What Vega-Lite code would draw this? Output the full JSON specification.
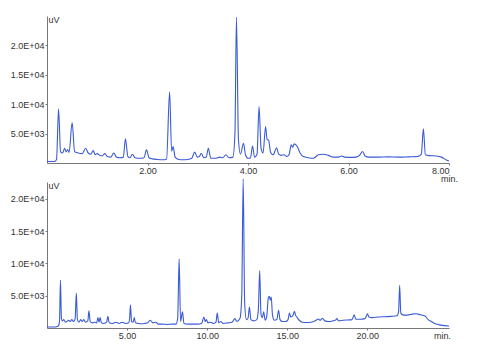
{
  "$schema": "https://vega.github.io/schema/vega-lite/v6.json",
  "background": "white",
  "padding": {"left": 10, "top": 14, "right": 5, "bottom": 5},
  "spacing": 19,
  "bounds": "flush",
  "config": {
    "view": {"stroke": null},
    "font": "Liberation Sans",
    "axis": {"labelFont": "Liberation Sans", "labelFontSize": 9, "labelColor": "#333333", "domainColor": "#777777", "tickColor": "#777777", "grid": false, "titleFont": "Liberation Sans", "titleFontSize": 9, "titleFontWeight": "normal", "titleColor": "#333333"}
  },
  "datasets": {
    "top": [
      {"t": 0.00, "v": 250}, {"t": 0.15, "v": 250}, {"t": 0.19, "v": 600}, {"t": 0.23, "v": 9200}, {"t": 0.27, "v": 1900},
      {"t": 0.31, "v": 1700}, {"t": 0.35, "v": 2500}, {"t": 0.38, "v": 1900}, {"t": 0.41, "v": 2300}, {"t": 0.44, "v": 1800},
      {"t": 0.50, "v": 6900}, {"t": 0.55, "v": 1900}, {"t": 0.62, "v": 1700}, {"t": 0.70, "v": 1600}, {"t": 0.77, "v": 2500},
      {"t": 0.82, "v": 1700}, {"t": 0.87, "v": 1500}, {"t": 0.92, "v": 2100}, {"t": 0.96, "v": 1400}, {"t": 1.00, "v": 1600},
      {"t": 1.05, "v": 1300}, {"t": 1.10, "v": 1200}, {"t": 1.15, "v": 1600}, {"t": 1.20, "v": 1100}, {"t": 1.27, "v": 1000},
      {"t": 1.33, "v": 1700}, {"t": 1.38, "v": 1000}, {"t": 1.45, "v": 900}, {"t": 1.52, "v": 1000}, {"t": 1.56, "v": 4100},
      {"t": 1.61, "v": 1100}, {"t": 1.65, "v": 900}, {"t": 1.70, "v": 1500}, {"t": 1.75, "v": 900}, {"t": 1.85, "v": 800},
      {"t": 1.93, "v": 900}, {"t": 1.98, "v": 2250}, {"t": 2.03, "v": 900}, {"t": 2.10, "v": 700}, {"t": 2.20, "v": 600},
      {"t": 2.30, "v": 550}, {"t": 2.38, "v": 700}, {"t": 2.44, "v": 12100}, {"t": 2.48, "v": 2000}, {"t": 2.51, "v": 2800},
      {"t": 2.55, "v": 1000}, {"t": 2.62, "v": 600}, {"t": 2.70, "v": 550}, {"t": 2.80, "v": 600}, {"t": 2.88, "v": 800},
      {"t": 2.94, "v": 1850}, {"t": 2.99, "v": 1000}, {"t": 3.03, "v": 1100}, {"t": 3.07, "v": 1650}, {"t": 3.12, "v": 900},
      {"t": 3.17, "v": 1000}, {"t": 3.21, "v": 2500}, {"t": 3.26, "v": 800}, {"t": 3.35, "v": 800}, {"t": 3.44, "v": 1000},
      {"t": 3.50, "v": 900}, {"t": 3.56, "v": 1400}, {"t": 3.62, "v": 900}, {"t": 3.70, "v": 1000}, {"t": 3.74, "v": 5000},
      {"t": 3.77, "v": 24800}, {"t": 3.81, "v": 4000}, {"t": 3.85, "v": 1500}, {"t": 3.91, "v": 3350}, {"t": 3.95, "v": 1400},
      {"t": 4.00, "v": 800}, {"t": 4.05, "v": 900}, {"t": 4.09, "v": 2900}, {"t": 4.13, "v": 1000}, {"t": 4.18, "v": 1500},
      {"t": 4.22, "v": 9600}, {"t": 4.26, "v": 2500}, {"t": 4.30, "v": 1700}, {"t": 4.35, "v": 6200}, {"t": 4.38, "v": 4000},
      {"t": 4.41, "v": 3900}, {"t": 4.45, "v": 1800}, {"t": 4.50, "v": 1400}, {"t": 4.57, "v": 2600}, {"t": 4.61, "v": 1500},
      {"t": 4.66, "v": 1300}, {"t": 4.72, "v": 1400}, {"t": 4.77, "v": 1100}, {"t": 4.82, "v": 1500}, {"t": 4.86, "v": 3100},
      {"t": 4.89, "v": 2700}, {"t": 4.92, "v": 3250}, {"t": 4.98, "v": 2800}, {"t": 5.04, "v": 1650}, {"t": 5.10, "v": 1100},
      {"t": 5.20, "v": 900}, {"t": 5.30, "v": 800}, {"t": 5.40, "v": 1400}, {"t": 5.50, "v": 1500}, {"t": 5.60, "v": 1300},
      {"t": 5.70, "v": 1000}, {"t": 5.80, "v": 1000}, {"t": 5.86, "v": 1200}, {"t": 5.92, "v": 1000}, {"t": 6.05, "v": 950},
      {"t": 6.15, "v": 1000}, {"t": 6.22, "v": 1300}, {"t": 6.28, "v": 1950}, {"t": 6.33, "v": 1200}, {"t": 6.40, "v": 1000},
      {"t": 6.60, "v": 1000}, {"t": 6.80, "v": 1050}, {"t": 7.00, "v": 1000}, {"t": 7.20, "v": 1050}, {"t": 7.38, "v": 1100},
      {"t": 7.45, "v": 1500}, {"t": 7.49, "v": 5800}, {"t": 7.53, "v": 1400}, {"t": 7.60, "v": 1250}, {"t": 7.75, "v": 1200},
      {"t": 7.85, "v": 1000}, {"t": 7.95, "v": 500}, {"t": 8.00, "v": 350}
    ],
    "bottom": [
      {"t": 0.00, "v": 150}, {"t": 0.50, "v": 150}, {"t": 0.70, "v": 300}, {"t": 0.78, "v": 1000}, {"t": 0.84, "v": 7400},
      {"t": 0.90, "v": 1500}, {"t": 0.97, "v": 1100}, {"t": 1.05, "v": 1300}, {"t": 1.15, "v": 900}, {"t": 1.25, "v": 1000},
      {"t": 1.35, "v": 1200}, {"t": 1.45, "v": 1000}, {"t": 1.55, "v": 1300}, {"t": 1.65, "v": 1000}, {"t": 1.76, "v": 1500},
      {"t": 1.83, "v": 5400}, {"t": 1.90, "v": 1300}, {"t": 2.00, "v": 900}, {"t": 2.10, "v": 1300}, {"t": 2.20, "v": 1000},
      {"t": 2.30, "v": 1300}, {"t": 2.40, "v": 900}, {"t": 2.55, "v": 1100}, {"t": 2.62, "v": 2650}, {"t": 2.70, "v": 1000},
      {"t": 2.85, "v": 800}, {"t": 3.00, "v": 900}, {"t": 3.10, "v": 800}, {"t": 3.18, "v": 1600}, {"t": 3.25, "v": 900},
      {"t": 3.32, "v": 1600}, {"t": 3.40, "v": 800}, {"t": 3.55, "v": 700}, {"t": 3.72, "v": 900}, {"t": 3.80, "v": 1800},
      {"t": 3.88, "v": 800}, {"t": 4.10, "v": 700}, {"t": 4.30, "v": 900}, {"t": 4.50, "v": 700}, {"t": 4.70, "v": 900},
      {"t": 4.90, "v": 700}, {"t": 5.10, "v": 800}, {"t": 5.16, "v": 1500}, {"t": 5.21, "v": 3600}, {"t": 5.28, "v": 1000},
      {"t": 5.38, "v": 900}, {"t": 5.45, "v": 1600}, {"t": 5.52, "v": 800}, {"t": 5.70, "v": 700}, {"t": 5.90, "v": 650},
      {"t": 6.10, "v": 700}, {"t": 6.30, "v": 800}, {"t": 6.43, "v": 1200}, {"t": 6.50, "v": 1100}, {"t": 6.60, "v": 800},
      {"t": 6.80, "v": 900}, {"t": 6.95, "v": 600}, {"t": 7.20, "v": 600}, {"t": 7.50, "v": 550}, {"t": 7.80, "v": 600},
      {"t": 8.05, "v": 600}, {"t": 8.16, "v": 1500}, {"t": 8.25, "v": 10700}, {"t": 8.34, "v": 1000}, {"t": 8.46, "v": 2500},
      {"t": 8.55, "v": 700}, {"t": 8.80, "v": 600}, {"t": 9.10, "v": 600}, {"t": 9.40, "v": 600}, {"t": 9.65, "v": 700},
      {"t": 9.80, "v": 1700}, {"t": 9.88, "v": 1000}, {"t": 9.95, "v": 1300}, {"t": 10.05, "v": 800}, {"t": 10.20, "v": 900},
      {"t": 10.40, "v": 700}, {"t": 10.55, "v": 900}, {"t": 10.63, "v": 2300}, {"t": 10.72, "v": 800}, {"t": 10.85, "v": 1000},
      {"t": 11.00, "v": 700}, {"t": 11.30, "v": 800}, {"t": 11.55, "v": 900}, {"t": 11.73, "v": 1450}, {"t": 11.85, "v": 1000},
      {"t": 12.05, "v": 1500}, {"t": 12.16, "v": 5000}, {"t": 12.25, "v": 23100}, {"t": 12.34, "v": 4000}, {"t": 12.45, "v": 1300},
      {"t": 12.55, "v": 1500}, {"t": 12.64, "v": 3250}, {"t": 12.73, "v": 1300}, {"t": 12.90, "v": 1100}, {"t": 13.10, "v": 1300},
      {"t": 13.20, "v": 3000}, {"t": 13.28, "v": 8900}, {"t": 13.36, "v": 2200}, {"t": 13.45, "v": 1600}, {"t": 13.53, "v": 2500},
      {"t": 13.62, "v": 1200}, {"t": 13.72, "v": 1800}, {"t": 13.82, "v": 4700}, {"t": 13.88, "v": 4900}, {"t": 13.94, "v": 4300},
      {"t": 14.00, "v": 4800}, {"t": 14.08, "v": 2000}, {"t": 14.20, "v": 1200}, {"t": 14.35, "v": 1300}, {"t": 14.46, "v": 2750},
      {"t": 14.55, "v": 1300}, {"t": 14.70, "v": 1000}, {"t": 14.90, "v": 1000}, {"t": 15.05, "v": 1300}, {"t": 15.14, "v": 2300},
      {"t": 15.22, "v": 1700}, {"t": 15.30, "v": 1800}, {"t": 15.38, "v": 2100}, {"t": 15.45, "v": 2600}, {"t": 15.52, "v": 2000},
      {"t": 15.60, "v": 1700}, {"t": 15.75, "v": 1200}, {"t": 15.95, "v": 900}, {"t": 16.20, "v": 850}, {"t": 16.50, "v": 900},
      {"t": 16.80, "v": 1200}, {"t": 16.95, "v": 1400}, {"t": 17.05, "v": 1200}, {"t": 17.20, "v": 1500}, {"t": 17.35, "v": 1100},
      {"t": 17.60, "v": 1000}, {"t": 17.85, "v": 1100}, {"t": 18.00, "v": 1200}, {"t": 18.10, "v": 1450}, {"t": 18.20, "v": 1100},
      {"t": 18.50, "v": 1200}, {"t": 18.80, "v": 1250}, {"t": 19.05, "v": 1300}, {"t": 19.18, "v": 2050}, {"t": 19.28, "v": 1350},
      {"t": 19.55, "v": 1350}, {"t": 19.85, "v": 1450}, {"t": 19.95, "v": 1900}, {"t": 20.01, "v": 2200}, {"t": 20.10, "v": 1700},
      {"t": 20.30, "v": 1600}, {"t": 20.70, "v": 1700}, {"t": 21.10, "v": 1750}, {"t": 21.50, "v": 1800}, {"t": 21.85, "v": 1900},
      {"t": 21.95, "v": 2500}, {"t": 22.02, "v": 6600}, {"t": 22.09, "v": 2300}, {"t": 22.25, "v": 2000}, {"t": 22.50, "v": 2000},
      {"t": 22.80, "v": 2150}, {"t": 23.05, "v": 2200}, {"t": 23.30, "v": 2050}, {"t": 23.60, "v": 1850}, {"t": 23.80, "v": 1300},
      {"t": 24.00, "v": 1000}, {"t": 24.25, "v": 650}, {"t": 24.60, "v": 450}, {"t": 25.10, "v": 300}
    ]
  },
  "vconcat": [
    {
      "width": 402,
      "height": 147,
      "data": {"name": "top"},
      "mark": {"type": "line", "color": "#3a5ad6", "strokeWidth": 1.1, "clip": false, "interpolate": "monotone"},
      "encoding": {
        "x": {"field": "t", "type": "quantitative", "scale": {"domain": [0, 8.0], "nice": false, "zero": false},
          "axis": {"values": [2, 4, 6, 8], "format": ".2f", "tickSize": 2, "labelPadding": 1, "title": "min.", "titleAlign": "center", "titleX": 402, "titleY": 15, "titleBaseline": "middle"}},
        "y": {"field": "v", "type": "quantitative", "scale": {"domain": [0, 25000], "nice": false},
          "axis": {"values": [5000, 10000, 15000, 20000], "labelExpr": "replace(format(datum.value, '.1e'), 'e+', 'E+0')", "tickSize": 2, "labelPadding": 1, "title": "uV", "titleAngle": 0, "titleAlign": "left", "titleBaseline": "middle", "titleX": 1, "titleY": 3}}
      }
    },
    {
      "width": 402,
      "height": 146,
      "data": {"name": "bottom"},
      "mark": {"type": "line", "color": "#3a5ad6", "strokeWidth": 1.1, "clip": false, "interpolate": "monotone"},
      "encoding": {
        "x": {"field": "t", "type": "quantitative", "scale": {"domain": [0, 25.1], "nice": false, "zero": false},
          "axis": {"values": [5, 10, 15, 20], "format": ".2f", "tickSize": 2, "labelPadding": 1, "title": "min.", "titleAlign": "center", "titleX": 395, "titleY": 7, "titleBaseline": "middle"}},
        "y": {"field": "v", "type": "quantitative", "scale": {"domain": [0, 22600], "nice": false},
          "axis": {"values": [5000, 10000, 15000, 20000], "labelExpr": "replace(format(datum.value, '.1e'), 'e+', 'E+0')", "tickSize": 2, "labelPadding": 1, "title": "uV", "titleAngle": 0, "titleAlign": "left", "titleBaseline": "middle", "titleX": 1, "titleY": 3}}
      }
    }
  ]
}
